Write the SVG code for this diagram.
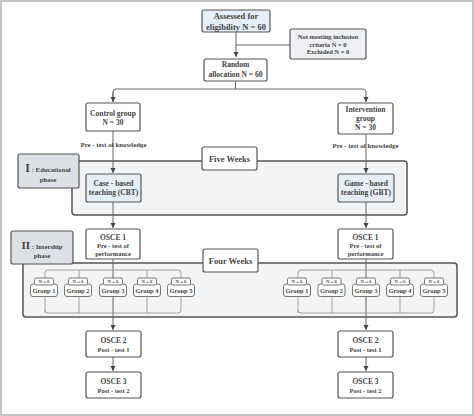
<svg xmlns="http://www.w3.org/2000/svg" width="474" height="416" viewBox="0 0 474 416">
<style>
text{font-family:"Liberation Serif","DejaVu Serif",serif;font-weight:bold;fill:#454545;text-anchor:middle}
.box{stroke:#555;stroke-width:1.2}
.w{fill:#fff}
.b{fill:#e6eef7}
.g{fill:#eef0f3}
.lab{fill:#dde0e5}
.big{fill:#f3f4f6;stroke:#555;stroke-width:1.5}
.c{fill:none;stroke:#666;stroke-width:1}
.br{fill:none;stroke:#999;stroke-width:0.9}
.gb{fill:#fff;stroke:#666;stroke-width:0.9}
.f9{font-size:8.5px}
.f75{font-size:7.5px}
.f7{font-size:6.8px}
.f65{font-size:6.5px}
.f6{font-size:6.4px}
.f5{font-size:4.8px}
</style>
<defs>
<marker id="ah" markerWidth="6" markerHeight="6" refX="5" refY="3" orient="auto" markerUnits="userSpaceOnUse">
<path d="M0,0.5 L5,3 L0,5.5 Z" fill="#444"/>
</marker>
<g id="grp">
<rect class="gb" x="-13.5" y="284" width="27" height="12.5" rx="2.5"/>
<rect class="gb" x="-9.5" y="278" width="19" height="7" rx="1.5"/>
<text class="f5" x="0" y="283.3">N = 6</text>
</g>
</defs>
<rect x="1" y="1" width="472" height="414" fill="#fff" stroke="#c4c4c4" stroke-width="2"/>

<g id="educational-phase">
<rect class="big" x="72" y="161" width="335" height="54" rx="3"/>
</g>
<g id="internship-phase">
<rect class="big" x="23" y="263" width="434" height="54" rx="3"/>
</g>

<g id="connectors">
<path class="c" d="M236,32 V57" marker-end="url(#ah)"/>
<path class="c" d="M236,45 H290"/>
<path class="c" d="M235.5,81 V89"/>
<path class="c" d="M113,102 V92 Q113,89 116,89 H363 Q366,89 366,92 V102" marker-end="url(#ah)"/>
<path class="c" d="M113,92 V102" marker-end="url(#ah)"/>
<path class="c" d="M113,131 V173" marker-end="url(#ah)"/>
<path class="c" d="M366,134 V173" marker-end="url(#ah)"/>
<path class="c" d="M113,202 V228" marker-end="url(#ah)"/>
<path class="c" d="M366,202 V228" marker-end="url(#ah)"/>
<path class="c" d="M113,259 V330" marker-end="url(#ah)"/>
<path class="c" d="M366,259 V330" marker-end="url(#ah)"/>
<path class="c" d="M113,357 V371" marker-end="url(#ah)"/>
<path class="c" d="M366,357 V371" marker-end="url(#ah)"/>
<path class="br" d="M45,313 V273 Q45,270 48,270 H178 Q181,270 181,273 V310 Q181,313 178,313 H48 Q45,313 45,310 M79,270 V313 M147,270 V313"/>
<path class="br" d="M298,313 V273 Q298,270 301,270 H431 Q434,270 434,273 V310 Q434,313 431,313 H301 Q298,313 298,310 M332,270 V313 M400,270 V313"/>
</g>

<g id="assessed">
<rect class="box b" x="202" y="10" width="68" height="22" rx="2"/>
<text class="f9" x="236" y="19">Assessed for</text>
<text class="f9" x="236" y="29.5">eligibility N = 60</text>
</g>
<g id="excluded">
<rect class="box g" x="290" y="29" width="76" height="30" rx="2"/>
<text class="f65" x="328" y="39">Not meeting inclusion</text>
<text class="f65" x="328" y="46.5">criteria N = 0</text>
<text class="f65" x="328" y="54">Excluded N = 0</text>
</g>
<g id="random">
<rect class="box w" x="204" y="59" width="63" height="22" rx="2"/>
<text class="f75" x="235.5" y="67">Random</text>
<text class="f75" x="235.5" y="76.5">allocation N = 60</text>
</g>
<g id="control">
<rect class="box w" x="86" y="103" width="54" height="28" rx="2"/>
<text class="f75" x="113" y="115.5">Control group</text>
<text class="f75" x="113" y="124.5">N = 30</text>
</g>
<g id="intervention">
<rect class="box w" x="338" y="103" width="55" height="31" rx="2"/>
<text class="f75" x="365.5" y="112">Intervention</text>
<text class="f75" x="365.5" y="121">group</text>
<text class="f75" x="365.5" y="130">N = 30</text>
</g>
<g id="pretest-labels">
<text class="f7" x="113.5" y="146.5">Pre - test of knowledge</text>
<text class="f7" x="365.5" y="147.5">Pre - test of knowledge</text>
</g>
<g id="educational-label">
<rect class="box lab" x="18" y="154" width="61" height="34" rx="2"/>
<text x="48" y="172"><tspan style="font-size:12px">I</tspan><tspan class="f7"> : Educational</tspan></text>
<text class="f7" x="48" y="181.5">phase</text>
</g>
<g id="five-weeks">
<rect class="box w" x="202" y="147" width="55" height="23" rx="2"/>
<text class="f9" x="229.5" y="161.5">Five Weeks</text>
</g>
<g id="cbt">
<rect class="box b" x="86" y="174" width="55" height="28" rx="2"/>
<text class="f75" x="113.5" y="186">Case - based</text>
<text class="f75" x="113.5" y="195">teaching (CBT)</text>
</g>
<g id="gbt">
<rect class="box b" x="338" y="174" width="56" height="28" rx="2"/>
<text class="f75" x="366" y="186">Game - based</text>
<text class="f75" x="366" y="195">teaching (GBT)</text>
</g>
<g id="internship-label">
<rect class="box lab" x="11" y="231" width="62" height="33" rx="2"/>
<text x="42" y="248.5"><tspan style="font-size:11px">II</tspan><tspan class="f7"> : Intership</tspan></text>
<text class="f7" x="42" y="258">phase</text>
</g>
<g id="osce1-left">
<rect class="box w" x="86" y="229" width="54" height="30" rx="2"/>
<text class="f75" x="113" y="240">OSCE 1</text>
<text class="f65" x="113" y="247.5">Pre - test of</text>
<text class="f65" x="113" y="255.5">performance</text>
</g>
<g id="osce1-right">
<rect class="box w" x="338" y="229" width="55" height="30" rx="2"/>
<text class="f75" x="365.5" y="240">OSCE 1</text>
<text class="f65" x="365.5" y="247.5">Pre - test of</text>
<text class="f65" x="365.5" y="255.5">performance</text>
</g>
<g id="four-weeks">
<rect class="box w" x="203" y="249" width="55" height="23" rx="2"/>
<text class="f9" x="230.5" y="263.5">Four Weeks</text>
</g>
<g id="groups-left">
<use href="#grp" x="44"/><text class="f6" x="44" y="293">Group 1</text>
<use href="#grp" x="78"/><text class="f6" x="78" y="293">Group 2</text>
<use href="#grp" x="113"/><text class="f6" x="113" y="293">Group 3</text>
<use href="#grp" x="147"/><text class="f6" x="147" y="293">Group 4</text>
<use href="#grp" x="181"/><text class="f6" x="181" y="293">Group 5</text>
</g>
<g id="groups-right">
<use href="#grp" x="297"/><text class="f6" x="297" y="293">Group 1</text>
<use href="#grp" x="331.5"/><text class="f6" x="331.5" y="293">Group 2</text>
<use href="#grp" x="366"/><text class="f6" x="366" y="293">Group 3</text>
<use href="#grp" x="400"/><text class="f6" x="400" y="293">Group 4</text>
<use href="#grp" x="434"/><text class="f6" x="434" y="293">Group 5</text>
</g>
<g id="osce2-left">
<rect class="box w" x="86" y="331" width="55" height="26" rx="2"/>
<text class="f75" x="113.5" y="342.5">OSCE 2</text>
<text class="f65" x="113.5" y="351.5">Post - test 1</text>
</g>
<g id="osce2-right">
<rect class="box w" x="338" y="331" width="55" height="26" rx="2"/>
<text class="f75" x="365.5" y="342.5">OSCE 2</text>
<text class="f65" x="365.5" y="351.5">Post - test 1</text>
</g>
<g id="osce3-left">
<rect class="box w" x="86" y="372" width="55" height="26" rx="2"/>
<text class="f75" x="113.5" y="383.5">OSCE 3</text>
<text class="f65" x="113.5" y="392.5">Post - test 2</text>
</g>
<g id="osce3-right">
<rect class="box w" x="338" y="372" width="55" height="26" rx="2"/>
<text class="f75" x="365.5" y="383.5">OSCE 3</text>
<text class="f65" x="365.5" y="392.5">Post - test 2</text>
</g>
</svg>
